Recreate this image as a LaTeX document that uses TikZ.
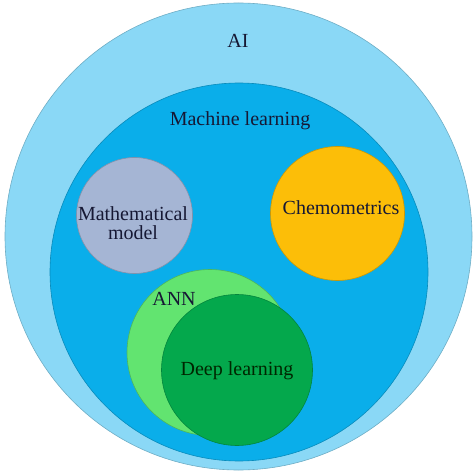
\documentclass[tikz,border=0pt]{standalone}
\usepackage{fontspec}
\setmainfont{Liberation Serif}
\newfontfamily\setfont{Liberation Serif}
\usepackage{xcolor}
\usepackage{tikz}
\usetikzlibrary{positioning,calc}
\definecolor{aiblue}   {RGB}{138,216,246}
\definecolor{mlblue}   {RGB}{10,174,234}
\definecolor{mathgray} {RGB}{165,181,212}
\definecolor{chemgold} {RGB}{252,190,8}
\definecolor{anngreen} {RGB}{98,228,112}
\definecolor{dlgreen}  {RGB}{4,168,76}
\definecolor{textnavy} {RGB}{22,24,52}
\tikzset{
  bubble/.style ={circle, draw=#1!80!black, line width=0.6pt, fill=#1,
                  inner sep=0pt},
  setlabel/.style={font=\setfont\fontsize{20}{22}\selectfont, text=textnavy,
                  align=center, inner sep=1pt},
}

\begin{document}
\begin{tikzpicture}[x=1pt, y=-1pt]
  \useasboundingbox (0,0) rectangle (474,473);
  % nested sets
  \node[bubble=aiblue,   minimum size=467pt] (ai)   at (238.5,236.5) {};
  \node[bubble=mlblue,   minimum size=378pt] (ml)   at (239,272) {};
  \node[bubble=mathgray, minimum size=116pt] (math) at (134.5,215.5) {};
  \node[bubble=chemgold, minimum size=134pt] (chem) at (337.5,213.5) {};
  \node[bubble=anngreen, minimum size=166pt] (ann)  at (210,352.5) {};
  \node[bubble=dlgreen,  minimum size=151pt] (dl)   at (237,370) {};

  % labels
  \node[setlabel] (ailbl)   at (238,41)  {AI};
  \node[setlabel] (mllbl)   at (240,121) {Machine learning};
  \node[setlabel] (mathlbl) at (133,223) {Mathematical\\[-3pt]model};
  \node[setlabel] (chemlbl) at (341,208) {Chemometrics};
  \node[setlabel] (annlbl)  at (174,299) {ANN};
  \node[setlabel, text=black!85!green] (dllbl) at (237,371) {Deep learning};
\end{tikzpicture}
\end{document}
